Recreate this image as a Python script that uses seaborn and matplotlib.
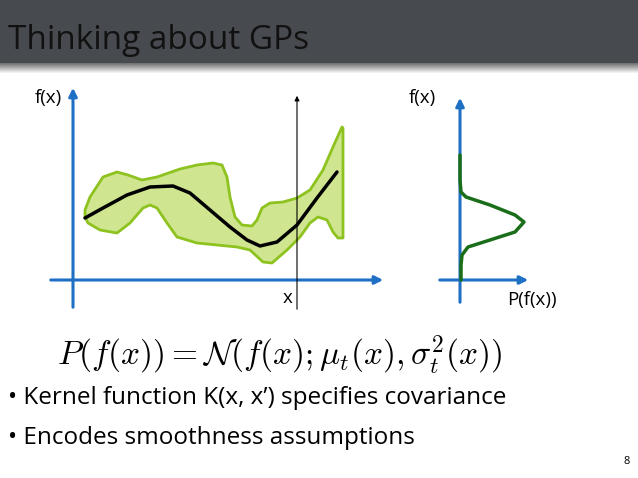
import numpy as np
import pandas as pd
import matplotlib
matplotlib.use("Agg")
import matplotlib.pyplot as plt
import seaborn as sns

sns.set_theme(style="white")
plt.rcParams['font.family'] = ['Open Sans', 'DejaVu Sans']

# GP band (x, f) in slide units
mean_x = [85, 103, 127, 150, 173, 190, 210, 230, 247, 260, 277, 297, 317, 337]
mean_y = [218, 208, 195, 187, 186, 193, 210, 227, 240, 246, 242, 225, 198, 172]
upper_x = [85, 90, 103, 117, 128, 142, 157, 180, 197, 213, 222, 227, 230, 235, 242, 252,
           257, 262, 270, 283, 297, 310, 323, 333, 342, 343]
upper_y = [210, 197, 177, 172, 175, 180, 177, 169, 165, 163, 165, 177, 197, 217, 225, 226,
           220, 208, 203, 202, 198, 190, 170, 147, 127, 128]
lower_x = [343, 338, 333, 327, 318, 310, 300, 287, 272, 263, 250, 237, 217, 197, 177, 167,
           157, 150, 143, 130, 117, 100, 88, 85]
lower_y = [238, 238, 232, 220, 217, 223, 237, 250, 263, 262, 250, 247, 245, 243, 237, 223,
           208, 205, 208, 223, 233, 230, 223, 217]
# marginal density P(f(x))
dens_x = [460, 460, 461, 466, 490, 515, 524, 515, 490, 468, 462, 461, 461]
dens_y = [155, 180, 192, 197, 205, 215, 222, 232, 240, 247, 255, 265, 280]

fig = plt.figure(figsize=(6.38, 4.78), dpi=100)
ax = fig.add_axes([0, 0, 1, 1])

# header
ax.add_patch(plt.Rectangle((0, 0), 638, 63, color='#474b4f', zorder=0))
for i in range(10):
    g = 0.45 + 0.055 * i
    ax.add_patch(plt.Rectangle((0, 63 + i), 638, 1, color=(g, g, g), zorder=0, lw=0))
ax.text(8, 40, "Thinking about GPs", fontsize=24, color='#111111', va='center', ha='left')

blue = '#1f6fc5'
arrow = dict(arrowstyle='-|>', color=blue, lw=2.2, mutation_scale=12)
ax.annotate('', xy=(73, 85), xytext=(73, 310), arrowprops=arrow)
ax.annotate('', xy=(386, 280), xytext=(48, 280), arrowprops=arrow)
ax.annotate('', xy=(460, 95), xytext=(460, 305), arrowprops=arrow)
ax.annotate('', xy=(531, 280), xytext=(437, 280), arrowprops=arrow)
ax.annotate('', xy=(297, 93), xytext=(297, 312),
            arrowprops=dict(arrowstyle='-|>', color='black', lw=0.8, mutation_scale=7))

ax.fill(upper_x + lower_x, upper_y + lower_y, facecolor='#cfe58f', edgecolor='#8dc21f',
        lw=2, zorder=2, joinstyle='round')
sns.lineplot(x=mean_x, y=mean_y, sort=False, estimator=None, color='black', lw=2.5, ax=ax, zorder=3)
sns.lineplot(x=dens_x, y=dens_y, sort=False, estimator=None, color='#1a6e1a', lw=2.5, ax=ax, zorder=3)
ax.set_xlim(0, 638)
ax.set_ylim(478, 0)
ax.axis('off')

ax.text(35, 98, "f(x)", fontsize=13.5, ha='left', va='center', color='black')
ax.text(409, 98, "f(x)", fontsize=13.5, ha='left', va='center', color='black')
ax.text(288, 298, "x", fontsize=13.5, ha='center', va='center', color='black')
ax.text(507, 300, "P(f(x))", fontsize=13.5, ha='left', va='center', color='black')

ax.text(280, 355, r"$P(f(x)) = \mathcal{N}(f(x); \mu_t(x), \sigma_t^2(x))$",
        fontsize=24, ha='center', va='center', math_fontfamily='cm', color='black')
ax.text(8, 398, "• Kernel function K(x, x’) specifies covariance", fontsize=17.5,
        va='center', color='black')
ax.text(8, 438, "• Encodes smoothness assumptions", fontsize=17.5, va='center', color='black')
ax.text(627, 462, "8", fontsize=8, ha='center', va='center', color='black')

fig.savefig("out.png", dpi=100)
